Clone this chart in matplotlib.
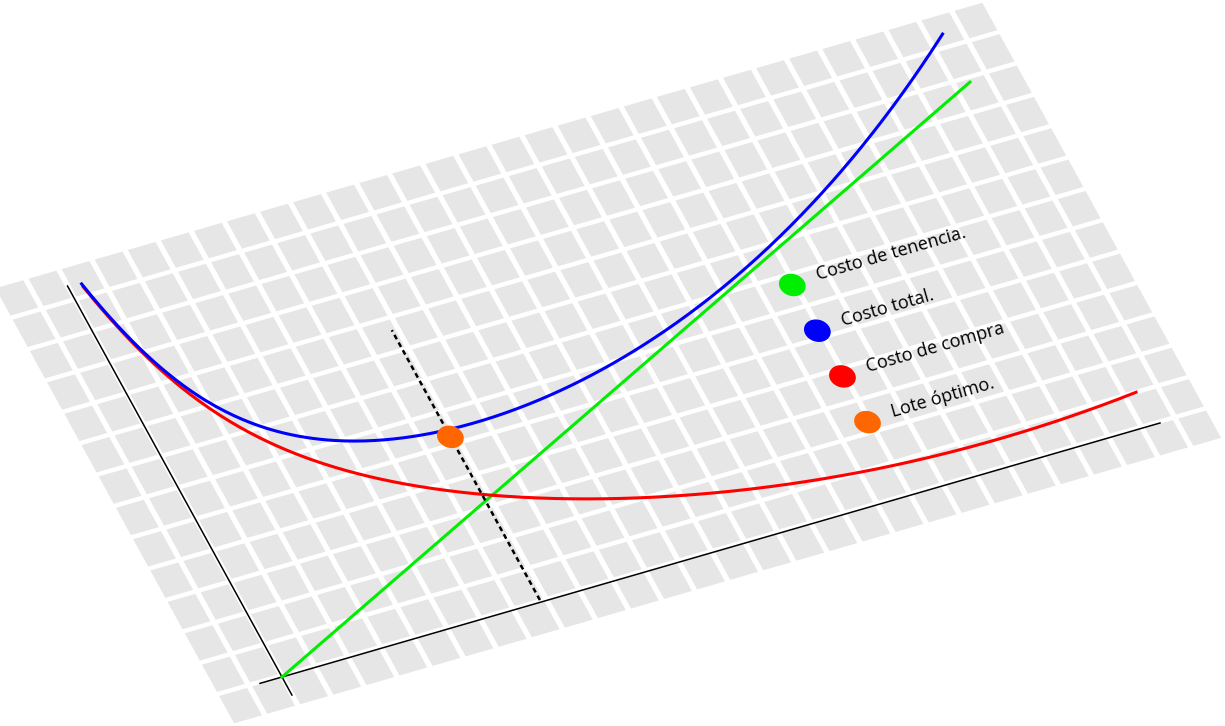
import numpy as np
import matplotlib
matplotlib.use("Agg")
import matplotlib.pyplot as plt
from matplotlib.transforms import Affine2D
from matplotlib.patches import Rectangle, Ellipse

# points, in chart units (x: lot size, y: cost)
red_x = [0.15, 0.39, 0.67, 1.35, 2.15, 2.93, 3.82, 5.04, 7.22, 9.93]
red_y = [9.56, 7.78, 6.61, 4.80, 3.43, 2.56, 1.94, 1.35, 0.96, 0.72]
blue_x = [0.15, 0.42, 1.05, 2.10, 2.95, 4.08, 6.09, 8.32, 9.96]
blue_y = [9.56, 7.89, 5.87, 4.40, 4.12, 4.32, 5.54, 7.62, 9.62]
green_x = [0.0, 9.97]
green_y = [0.0, 8.52]
opt_x, opt_y = 2.95, 4.12
labels = ["Costo de tenencia.", "Costo total.", "Costo de compra", "Lote óptimo."]
colors = ["#00ee00", "#0000ff", "#ff0000", "#ff6600"]


def smooth(xs, ys, n=300):
    xs, ys = np.asarray(xs), np.asarray(ys)
    basis = lambda v: np.column_stack([1 / (v + 0.5), np.ones_like(v), v, v ** 2])
    coef, *_ = np.linalg.lstsq(basis(xs), ys, rcond=None)
    xx = np.linspace(xs.min(), xs.max(), n)
    return xx, basis(xx) @ coef


fig = plt.figure(figsize=(12.25, 7.26), dpi=100)
ax = fig.add_axes([0, 0, 1, 1])
ax.set_xlim(0, 1225); ax.set_ylim(726, 0); ax.axis("off")
# skewed plane: chart units -> pixels
T = Affine2D().from_values(87.8, -25.4, -22.0, -40.1, 282, 677) + ax.transData

# tiled background
gx = np.linspace(-0.75, 10.55, 31)
gy = np.linspace(-0.75, 10.2, 15)
for i in range(len(gx) - 1):
    for j in range(len(gy) - 1):
        ax.add_patch(Rectangle((gx[i] + 0.03, gy[j] + 0.05),
                               gx[i + 1] - gx[i] - 0.06, gy[j + 1] - gy[j] - 0.10,
                               facecolor="#e6e6e6", edgecolor="none", transform=T))

# axes
ax.plot([-0.25, 10.0], [0, 0], color="black", lw=1.1, transform=T)
ax.plot([0, 0], [-0.45, 9.75], color="black", lw=1.1, transform=T)

ax.plot(green_x, green_y, color=colors[0], lw=2.2, transform=T)
ax.plot(*smooth(red_x, red_y), color=colors[2], lw=2.2, transform=T)
ax.plot(*smooth(blue_x, blue_y), color=colors[1], lw=2.2, transform=T)
ax.plot([opt_x, opt_x], [0.05, 6.78], color="black", lw=1.8, ls=(0, (2, 1.5)), transform=T)
ax.add_patch(Ellipse((opt_x, opt_y), 0.26, 0.5, color=colors[3], transform=T, zorder=5))

# legend on the plane
for k, (lab, c) in enumerate(zip(labels, colors)):
    ly = 5.26 - 1.14 * k
    ax.add_patch(Ellipse((7.13, ly), 0.26, 0.5, color=c, transform=T, zorder=5))
    ax.text(7.42, ly + 0.05, lab, transform=T, rotation=16, rotation_mode="anchor",
            ha="left", va="center", fontsize=13, family="Open Sans", color="black")

fig.savefig("out.png", dpi=100)
